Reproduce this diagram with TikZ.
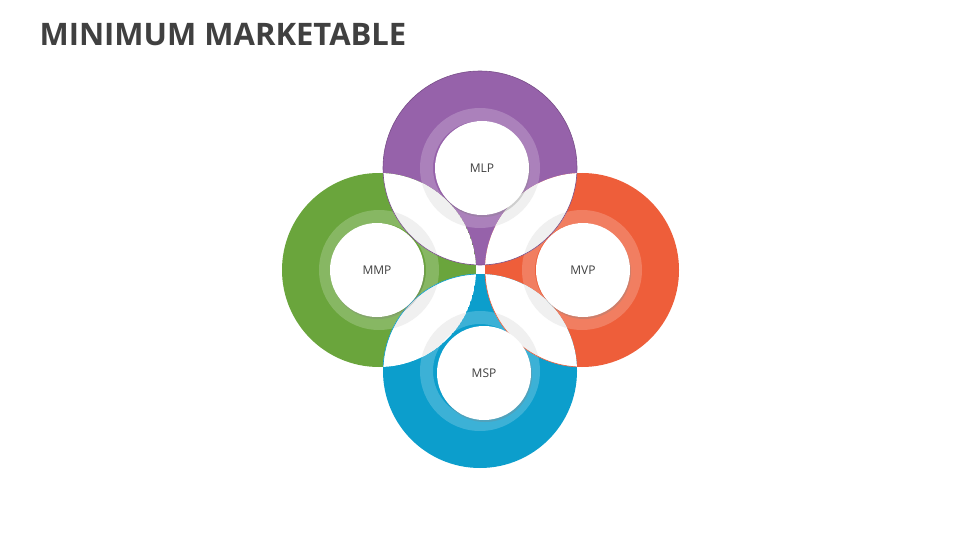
\documentclass[tikz,border=0pt]{standalone}
\usepackage{fontspec}
\setmainfont{Open Sans}
\usetikzlibrary{shadows}
\definecolor{cpur}{HTML}{9662AA}
\definecolor{cgrn}{HTML}{6AA53C}
\definecolor{corg}{HTML}{EE5E3A}
\definecolor{cblu}{HTML}{0C9ECC}
\definecolor{ctxt}{HTML}{404040}
\begin{document}
\begin{tikzpicture}[x=1pt,y=-1pt,
  inner/.style={circle,fill=white,minimum size=94pt,inner sep=0pt,font=\fontsize{12}{14}\selectfont,text=ctxt,
    drop shadow={shadow xshift=1pt,shadow yshift=-2pt,opacity=.3}}]
\useasboundingbox (0,0) rectangle (960,540);
\fill[white] (0,0) rectangle (960,540);
\node[anchor=west,font=\fontsize{31}{34}\selectfont\bfseries,text=ctxt] (title) at (36,35) {MINIMUM MARKETABLE};
\def\R{97}
\coordinate (P) at (480,168);
\coordinate (G) at (379,270);
\coordinate (O) at (582,270);
\coordinate (B) at (480,371);
\fill[cpur] (P) circle (\R);
\fill[cgrn] (G) circle (\R);
\fill[corg] (O) circle (\R);
\fill[cblu] (B) circle (\R);
\foreach \c in {P,G,O,B}{
  \fill[white,opacity=.2,even odd rule] (\c) circle (60) (\c) circle (47);
}
\foreach \a/\b in {P/G,P/O,B/G,B/O}{
  \begin{scope}
    \clip (\a) circle (\R);
    \clip (\b) circle (\R);
    \fill[white] (\b) circle (\R);
    \fill[gray!12,even odd rule] (\a) circle (60) (\a) circle (47);
    \fill[gray!12,even odd rule] (\b) circle (60) (\b) circle (47);
  \end{scope}
}
\draw[cpur!80!black,line width=.6pt] (P) circle (\R);
\begin{scope}\clip (G) circle (\R); \draw[cblu,line width=.6pt] (B) circle (\R);\end{scope}
\begin{scope}\clip (B) circle (\R); \draw[corg,line width=.6pt] (O) circle (\R);\end{scope}
\node[inner] (mlp) at (482,168) {MLP};
\node[inner] (mmp) at (377,270) {MMP};
\node[inner] (mvp) at (583,270) {MVP};
\node[inner] (msp) at (484,373) {MSP};
\end{tikzpicture}
\end{document}
